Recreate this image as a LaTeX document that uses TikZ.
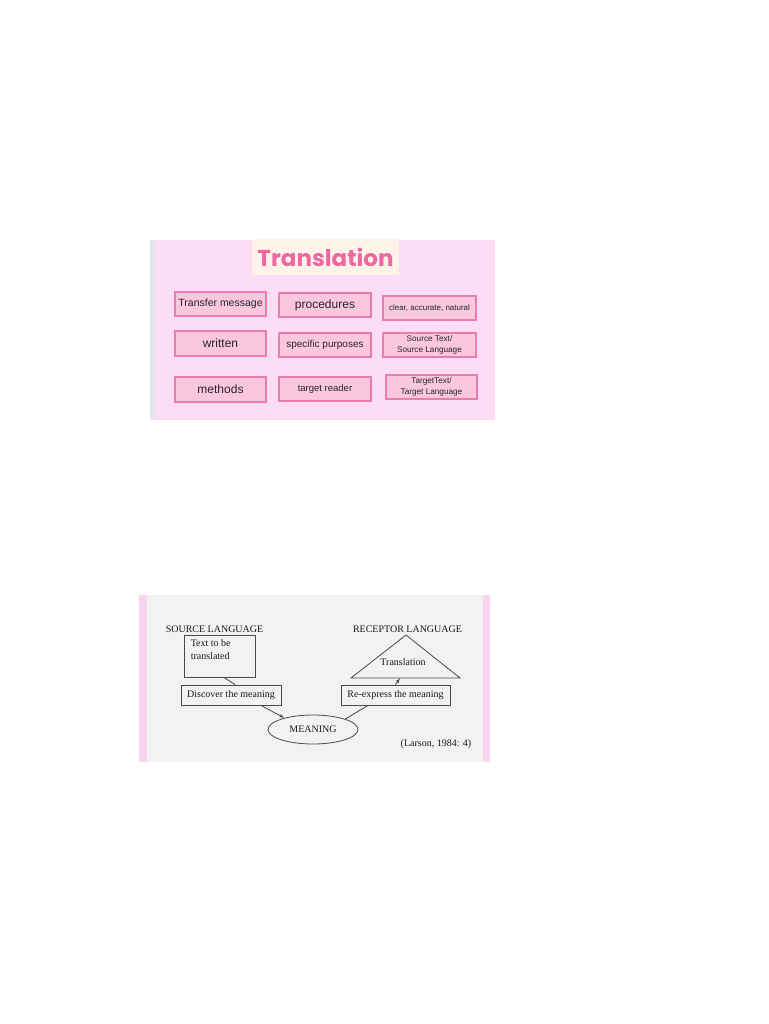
\documentclass[tikz,border=0pt]{standalone}
\usepackage{fontspec}
\setmainfont{Liberation Sans}
\newfontfamily\serifcap{Liberation Serif}
\newfontfamily\titlefont{Poppins}
\usepackage{tikz}
\usetikzlibrary{positioning}
\usetikzlibrary{arrows}
\usetikzlibrary{calc}
\usetikzlibrary{shapes.geometric}
\definecolor{panelpink}{HTML}{FDDCF5}
\definecolor{stripgrey}{HTML}{E6E4EC}
\definecolor{titlecream}{HTML}{FDF3E9}
\definecolor{titlepink}{HTML}{EE66A2}
\definecolor{boxfill}{HTML}{FAC7DF}
\definecolor{boxline}{HTML}{E97DAB}
\definecolor{panelgrey}{HTML}{F2F2F2}
\definecolor{strippink}{HTML}{FBD5F0}
\definecolor{greyline}{HTML}{4A4A4A}
\tikzstyle{pinkbox} = [draw=boxline, line width=1.1pt, fill=boxfill, rectangle, minimum width=91pt, minimum height=24pt, inner sep=1pt, align=center, text=black!85]
\tikzstyle{greybox} = [draw=greyline, line width=0.8pt, rectangle, minimum height=20pt, inner sep=2pt]
\tikzstyle{meaningnode} = [draw=greyline, line width=0.8pt, ellipse, minimum width=90pt, minimum height=29pt, inner sep=0pt]
\tikzstyle{serifcaption} = [font=\serifcap\fontsize{10}{11.5}\selectfont, text=black!90, inner sep=0pt]
\tikzstyle{link} = [draw=greyline, line width=0.8pt]

\begin{document}
\begin{tikzpicture}[x=1pt, y=-1pt, >=latex']
    \useasboundingbox (0,0) rectangle (768,1024);

    % top panel
    \fill[panelpink] (150,240) rectangle (495,420);
    \fill[stripgrey] (150,240) rectangle (155,420);
    \node[fill=titlecream, minimum width=147pt, minimum height=36pt, name=title] at (325.5,257)
       {\titlefont\bfseries\fontsize{23}{26}\selectfont\color{titlepink}Translation};

    \node[pinkbox, font=\fontsize{10.5}{12}\selectfont, name=transfer] at (220.5,304) {Transfer message};
    \node[pinkbox, minimum width=92pt, font=\fontsize{12}{13}\selectfont, name=procedures] at (325,305) {procedures};
    \node[pinkbox, minimum width=93pt, font=\fontsize{8}{9}\selectfont, name=clear] at (429.5,308) {clear, accurate, natural};

    \node[pinkbox, minimum height=25pt, font=\fontsize{12}{13}\selectfont, name=written] at (220.5,343.5) {written};
    \node[pinkbox, minimum width=92pt, font=\fontsize{10}{11}\selectfont, name=purposes] at (325,345) {specific purposes};
    \node[pinkbox, minimum width=93pt, font=\fontsize{8.2}{11}\selectfont, name=source] at (429.5,345)
       {Source Text/\\Source Language};

    \node[pinkbox, minimum height=25pt, font=\fontsize{12}{13}\selectfont, name=methods] at (220.5,389.5) {methods};
    \node[pinkbox, minimum width=92pt, font=\fontsize{9.5}{11}\selectfont, name=reader] at (325,389) {target reader};
    \node[pinkbox, font=\fontsize{8.2}{11}\selectfont, name=target] at (431.5,387)
       {TargetText/\\Target Language};

    % bottom panel
    \fill[panelgrey] (139,595) rectangle (490,762);
    \fill[strippink] (139,595) rectangle (147,762);
    \fill[strippink] (483,595) rectangle (490,762);

    \node[serifcaption, name=srclang] at (214.5,629) {SOURCE LANGUAGE};
    \node[serifcaption, name=reclang] at (407.5,629) {RECEPTOR LANGUAGE};

    \node[draw=greyline, line width=0.8pt, rectangle, minimum width=71pt, minimum height=42pt, name=tbt] at (219.5,656) {};
    \node[serifcaption, anchor=north west, align=left, name=tbttext] at ($(tbt.north west)+(7,5)$) {Text to be\\[1pt]translated};

    \node[greybox, minimum width=100pt, name=discover] at (231,695) {};
    \node[serifcaption, name=discovertext] at (discover) {Discover the meaning};
    \node[greybox, minimum width=109pt, name=reexpress] at (395.5,695) {};
    \node[serifcaption, name=reexpresstext] at (reexpress) {Re-express the meaning};

    \node[meaningnode, name=meaning] at (313,729.5) {};
    \node[serifcaption, name=meaningtext] at (meaning) {MEANING};

    \coordinate (trileft) at (351,678);
    \coordinate (triright) at (460,678);
    \coordinate (tritop) at (406,635);
    \draw[link] (trileft) -- (tritop) -- (triright) -- cycle;
    \node[serifcaption, name=transtext] at (403,662) {Translation};

    \node[serifcaption, name=larson] at (436,744) {(Larson, 1984: 4)};

    \draw[link] ($(tbt.south)+(4.5,0)$) -- ($(discover.north)+(4,0)$);
    \draw[link, ->] ($(discover.south)+(30,0)$) -- (meaning.158);
    \draw[link] (meaning.18) -- ($(reexpress.south)+(-27.5,0)$);
    \draw[link, ->] ($(reexpress.north)+(0,0)$) -- ($(trileft)!0.45!(triright)$);
\end{tikzpicture}
\end{document}
